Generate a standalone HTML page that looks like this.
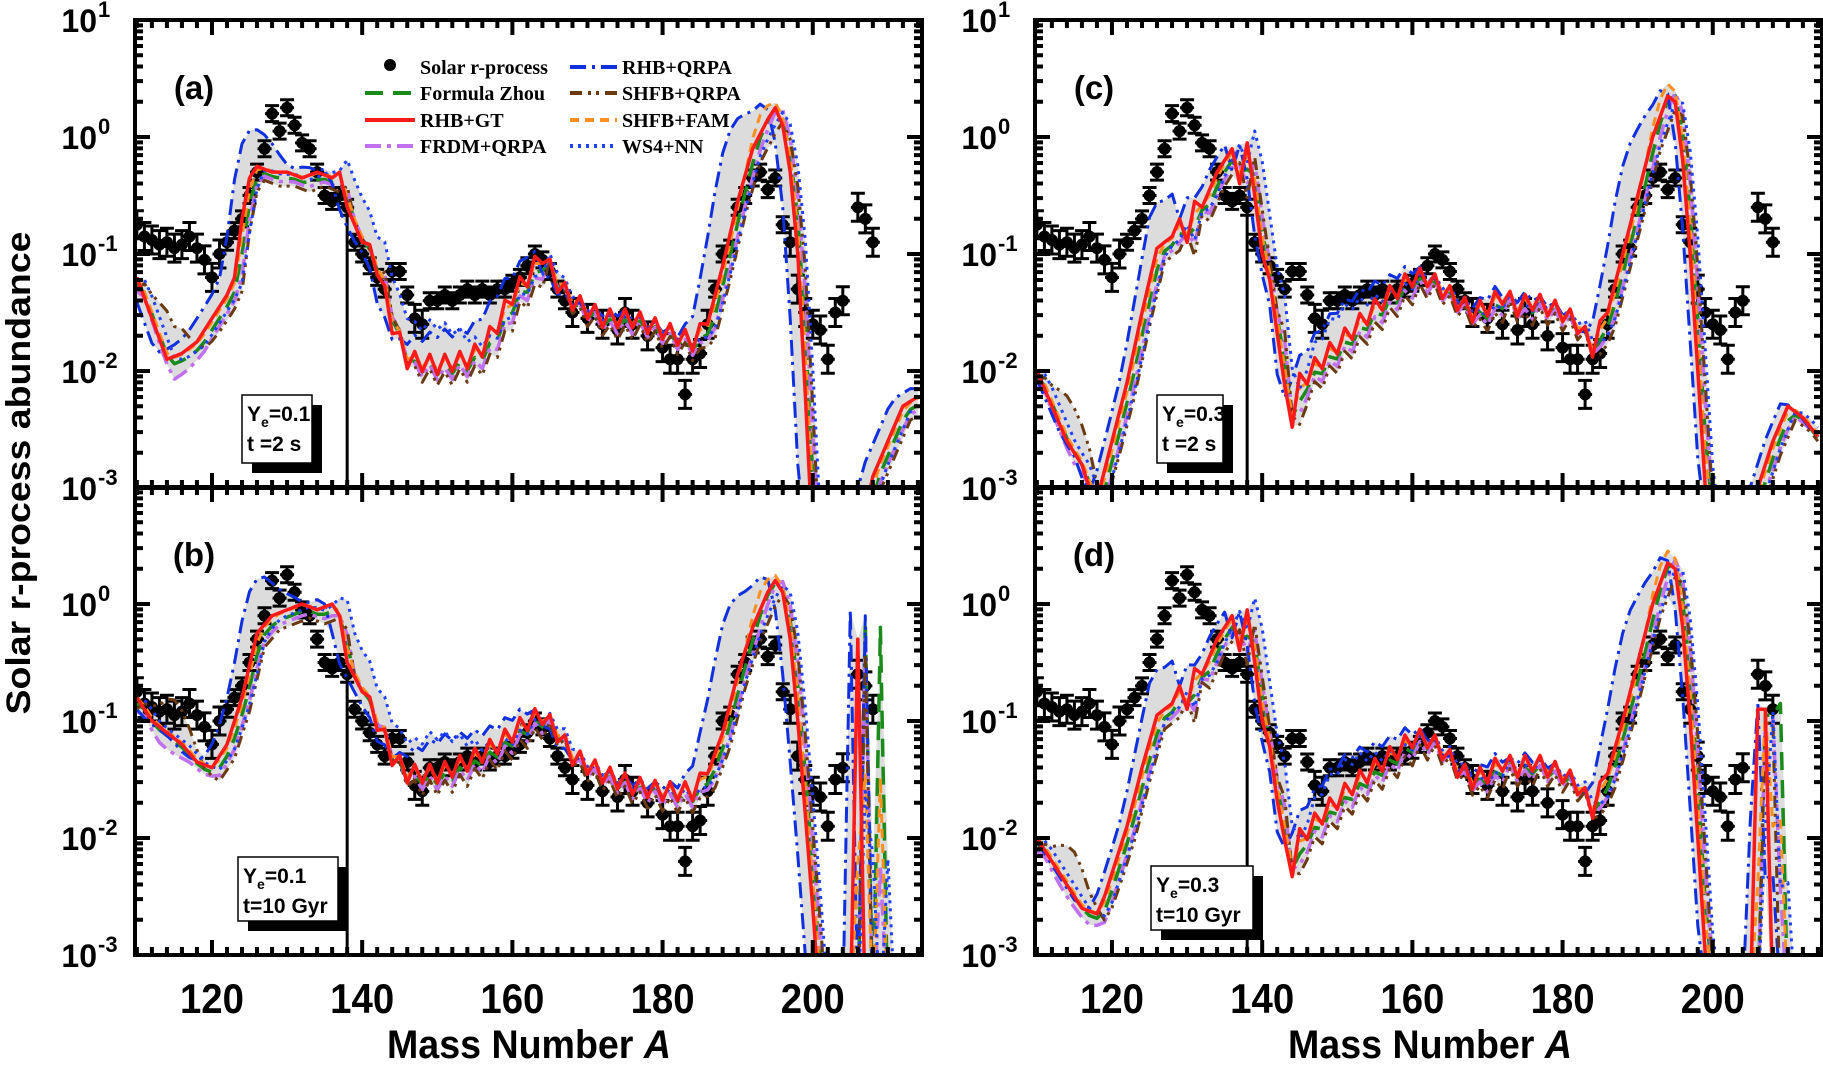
<!DOCTYPE html>
<html><head><meta charset="utf-8"><style>
html,body{margin:0;padding:0;background:#fff;}
svg{display:block;}
</style></head><body>
<svg id="s" width="1823" height="1066" xmlns="http://www.w3.org/2000/svg" font-family="Liberation Sans, Arial, sans-serif">
<rect width="1823" height="1066" fill="#fff"/>
<g id="g"></g>
<text x="0" y="0" transform="translate(30,473) rotate(-90)" text-anchor="middle" font-size="34" font-weight="bold" textLength="483" lengthAdjust="spacingAndGlyphs">Solar r-process abundance</text>
<text x="529" y="1058" text-anchor="middle" font-size="40" font-weight="bold" textLength="284" lengthAdjust="spacingAndGlyphs">Mass Number <tspan font-style="italic">A</tspan></text>
<text x="1430" y="1058" text-anchor="middle" font-size="40" font-weight="bold" textLength="284" lengthAdjust="spacingAndGlyphs">Mass Number <tspan font-style="italic">A</tspan></text>
</svg>
<script>
(function(){
var G=document.getElementById('g');
var out=[];
var PX=7.51, XMIN=109.75, DEC=117;
function panel(x0,yTop){return {x0:x0,x1:x0+787,yTop:yTop,yBot:yTop+468,
 X:function(a){return x0+(a-XMIN)*PX;}, Y:function(l){return yTop+(1-l)*DEC;}};}
var P={a:panel(135,20),b:panel(135,487),c:panel(1035,20),d:panel(1035,487)};
var base={
a:[[110,-1.2],[112,-1.55],[114,-1.9],[116,-1.85],[118,-1.75],[120,-1.55],[122,-1.35],[123,-1.2],[124,-0.7],[125,-0.35],[126,-0.25],[128,-0.3],[130,-0.3],[132,-0.35],[134,-0.3],[136,-0.35],[137,-0.3],[138,-0.6],[140,-0.9],[142,-1.1],[144,-1.6],[146,-1.9],[150,-1.95],[154,-1.9],[156,-1.8],[158,-1.6],[160,-1.35],[162,-1.2],[164,-1.0],[166,-1.25],[168,-1.4],[172,-1.55],[176,-1.55],[180,-1.65],[184,-1.75],[186,-1.6],[188,-1.1],[190,-0.55],[192,-0.1],[194,0.15],[195,0.25],[196,0.1],[197,-0.3],[198,-1.0],[199,-2.2],[200,-3.5],[206,-3.5],[208,-2.9],[212,-2.3],[214.5,-2.2]],
b:[[110,-0.8],[112,-1.0],[114,-1.1],[116,-1.2],[118,-1.35],[120,-1.4],[122,-1.2],[124,-0.8],[126,-0.25],[128,-0.1],[130,-0.05],[132,0.0],[134,-0.05],[136,0.0],[137,-0.1],[138,-0.5],[140,-0.75],[142,-1.0],[144,-1.3],[146,-1.45],[150,-1.45],[154,-1.35],[158,-1.2],[160,-1.1],[162,-1.0],[164,-0.95],[166,-1.1],[168,-1.3],[172,-1.45],[176,-1.55],[180,-1.6],[184,-1.6],[186,-1.45],[188,-1.1],[190,-0.6],[192,-0.2],[194,0.1],[195,0.2],[196,0.1],[197,-0.3],[198,-1.0],[199,-1.8],[200,-2.6],[201,-3.5],[205.5,-3.5],[206,-0.3],[206.5,-0.1],[207,-3.5],[208,-3.5],[208.5,-0.15],[209,-3.5],[214.5,-3.5]],
c:[[110,-2.0],[112,-2.3],[114,-2.6],[116,-2.8],[117,-3.0],[118,-3.1],[120,-2.6],[122,-2.1],[124,-1.5],[126,-0.95],[128,-0.85],[129,-0.7],[130,-0.9],[131,-0.55],[132,-0.6],[134,-0.3],[135,-0.2],[136,-0.1],[137,-0.4],[138,-0.05],[139,-0.5],[140,-1.0],[142,-1.6],[143,-2.2],[144,-2.4],[145,-2.1],[148,-1.9],[152,-1.65],[156,-1.4],[160,-1.2],[162,-1.2],[164,-1.3],[166,-1.4],[168,-1.5],[170,-1.45],[172,-1.35],[174,-1.45],[176,-1.4],[178,-1.45],[180,-1.5],[182,-1.6],[184,-1.8],[186,-1.5],[188,-1.0],[190,-0.5],[192,0.0],[194,0.35],[195,0.3],[196,-0.2],[197,-1.0],[198,-2.0],[199,-3.0],[200,-3.4],[204,-3.4],[206,-3.0],[208,-2.6],[210,-2.3],[212,-2.4],[214.5,-2.6]],
d:[[110,-2.0],[112,-2.2],[114,-2.4],[116,-2.6],[118,-2.65],[119,-2.5],[120,-2.3],[122,-1.9],[124,-1.4],[126,-0.95],[128,-0.85],[129,-0.7],[130,-0.9],[131,-0.55],[132,-0.6],[134,-0.3],[135,-0.2],[136,-0.1],[137,-0.4],[138,-0.05],[139,-0.5],[140,-1.0],[142,-1.6],[143,-2.1],[144,-2.25],[145,-2.0],[148,-1.8],[152,-1.55],[156,-1.35],[160,-1.15],[162,-1.15],[164,-1.25],[166,-1.4],[168,-1.5],[170,-1.45],[172,-1.35],[174,-1.4],[176,-1.35],[178,-1.4],[180,-1.45],[182,-1.55],[184,-1.75],[186,-1.45],[188,-1.0],[190,-0.5],[192,0.0],[194,0.35],[195,0.3],[196,-0.2],[197,-1.0],[198,-2.0],[199,-3.0],[200,-3.4],[205.5,-3.4],[206,-0.9],[207.5,-0.9],[208,-3.4],[208.5,-0.8],[209,-3.4],[214.5,-3.4]]
};
function interp(k,a){if(a<=k[0][0])return k[0][1];for(var i=1;i<k.length;i++){if(a<=k[i][0]){var t=(a-k[i-1][0])/(k[i][0]-k[i-1][0]);return k[i-1][1]+t*(k[i][1]-k[i-1][1]);}}return k[k.length-1][1];}
var S=[
 {c:'#1a8a1a',d:'18,10',w:3.5,sh:0.5,off:-0.05,b:[[194,2,0.1]],z:0.5},
 {c:'#c070f0',d:'16,6,4,6',w:3.5,sh:0.8,off:-0.08,b:[[195,2,0.12],[114,4,-0.1]],z:0.7},
 {c:'#1030e0',d:'16,6,3,6',w:3,sh:-1.5,off:0.05,b:[[126,3,0.3],[150,6,0.2],[188,3,0.5]],z:0.4},
 {c:'#6b3a10',d:'12,6,3,5,3,6',w:3,sh:1.0,off:-0.12,b:[[115,3,0.4]],z:0.8},
 {c:'#ff9020',d:'9,6',w:3,sh:0.3,off:0.0,b:[[193,2,0.2]],z:0.6},
 {c:'#2040ff',d:'3,5',w:3,sh:1.2,off:-0.02,b:[[150,6,0.35],[140,3,0.2]],z:0.5},
 {c:'#ff1a1a',d:'',w:3.5,sh:0,off:0,b:[],z:1}
];
function series(pk,s){var k=base[pk],pts=[];var sh=s.sh;if((pk=='c'||pk=='d')&&sh<0)sh=-0.8;
 for(var a=110;a<=214.5;a+=1){var l=interp(k,a-sh)+s.off;for(var j=0;j<s.b.length;j++){var bb=s.b[j];l+=bb[2]*Math.exp(-Math.pow((a-bb[0])/bb[1],2));}
 if(a>140&&a<186)l+=0.08*s.z*((a%2)?1:-1);if(l<-3.6)l=-3.6;pts.push([a,l]);}
 return pts;}
var dash=[[110,-0.75],[111,-0.85],[112,-0.88],[113,-0.92],[114,-0.9],[115,-0.95],[116,-0.92],[117,-0.85],[118,-0.95],[119,-1.05],[120,-1.2],[121,-1.0],[122,-0.9],[123,-0.8],[124,-0.7],[125,-0.5],[126,-0.3],[127,-0.1],[128,0.2],[129,0.05],[130,0.25],[131,0.1],[132,-0.05],[133,-0.1],[134,-0.3],[135,-0.5],[136,-0.55],[137,-0.5],[138,-0.6],[139,-0.9],[140,-1.0],[141,-1.1],[142,-1.2],[143,-1.3],[144,-1.15],[145,-1.15],[146,-1.35],[147,-1.55],[148,-1.6],[149,-1.4],[150,-1.4],[151,-1.35],[152,-1.4],[153,-1.35],[154,-1.3],[155,-1.35],[156,-1.3],[157,-1.35],[158,-1.3],[159,-1.3],[160,-1.25],[161,-1.2],[162,-1.1],[163,-1.0],[164,-1.05],[165,-1.15],[166,-1.3],[167,-1.4],[168,-1.5],[170,-1.55],[172,-1.6],[174,-1.65],[175,-1.5],[176,-1.6],[178,-1.7],[180,-1.8],[181,-1.9],[182,-1.9],[183,-2.2],[184,-1.9],[185,-1.85],[186,-1.6],[187,-1.3],[188,-1.0],[189,-0.95],[190,-0.6],[191,-0.5],[192,-0.35],[193,-0.3],[194,-0.45],[195,-0.35],[196,-0.75],[197,-0.9],[198,-1.3],[199,-1.5],[200,-1.6],[201,-1.65],[202,-1.9],[203,-1.5],[204,-1.4],[206,-0.6],[207,-0.7],[208,-0.9]];
var info={a:['0.1','t =2 s',242,395,70,68],b:['0.1','t=10 Gyr',238,857,100,64],c:['0.3','t =2 s',1157,395,66,68],d:['0.3','t=10 Gyr',1151,866,102,64]};
var lab={a:'(a)',b:'(b)',c:'(c)',d:'(d)'};
['a','b','c','d'].forEach(function(pk){
 var p=P[pk];
 out.push('<clipPath id="cp'+pk+'"><rect x="'+p.x0+'" y="'+p.yTop+'" width="787" height="468"/></clipPath>');
 out.push('<g clip-path="url(#cp'+pk+')">');
 var all=S.map(function(s){return series(pk,s);});
 var up=[],lo=[];
 for(var i=0;i<all[0].length;i++){var mx=-9,mn=9;for(var j=0;j<all.length;j++){mx=Math.max(mx,all[j][i][1]);mn=Math.min(mn,all[j][i][1]);}
  up.push(p.X(all[0][i][0]).toFixed(1)+','+p.Y(mx).toFixed(1));lo.unshift(p.X(all[0][i][0]).toFixed(1)+','+p.Y(mn).toFixed(1));}
 out.push('<polygon points="'+up.concat(lo).join(' ')+'" fill="#dcdcdc"/>');
 var l138=p.Y(-0.55);
 out.push('<line x1="'+p.X(138)+'" y1="'+l138+'" x2="'+p.X(138)+'" y2="'+p.yBot+'" stroke="#000" stroke-width="3"/>');
 dash.forEach(function(d){var x=p.X(d[0]),y=p.Y(d[1]);var e=(d[1]<-1.4||d[0]<122||d[0]>196)?14:8;
  out.push('<path d="M'+x+' '+(y-e)+'V'+(y+e)+'M'+(x-7)+' '+(y-e)+'h14M'+(x-7)+' '+(y+e)+'h14M'+(x-7)+' '+y+'h14" stroke="#000" stroke-width="3" fill="none"/><circle cx="'+x+'" cy="'+y+'" r="6" fill="#000"/>');});
 all.forEach(function(pts,j){var s=S[j];var d='M'+pts.map(function(q){return p.X(q[0]).toFixed(1)+' '+p.Y(q[1]).toFixed(1);}).join('L');
  out.push('<path d="'+d+'" fill="none" stroke="'+s.c+'" stroke-width="'+s.w+'" stroke-linejoin="round"'+(s.d?' stroke-dasharray="'+s.d+'"':'')+'/>');});
 out.push('</g>');
 out.push('<rect x="'+p.x0+'" y="'+p.yTop+'" width="787" height="468" fill="none" stroke="#000" stroke-width="4"/>');
 var t='';
 for(var a=110;a<=214;a+=2){var x=p.X(a),L=(a%20==0)?15:8;t+='M'+x+' '+p.yTop+'v'+L+'M'+x+' '+p.yBot+'v-'+L;}
 for(var dd=0;dd<4;dd++){for(var k=1;k<=9;k++){var y=p.Y(-3+dd+Math.log10(k));var L=(k==1)?15:8;if(k==1&&dd==0)continue;t+='M'+p.x0+' '+y+'h'+L+'M'+p.x1+' '+y+'h-'+L;}}
 out.push('<path d="'+t+'" stroke="#000" stroke-width="4" fill="none"/>');
 var yl=(pk=='a'||pk=='c')?[1,0,-1,-2,-3]:[0,-1,-2,-3];
 yl.forEach(function(e){var y=p.Y(e);out.push('<text x="'+(p.x0-38)+'" y="'+(y+12)+'" text-anchor="end" font-size="32" font-weight="bold">10</text><text x="'+(p.x0-37)+'" y="'+(y-3)+'" font-size="22" font-weight="bold">'+(e==0||e==1?e:'-'+(-e))+'</text>');});
 out.push('<text x="'+(p.x0+59)+'" y="'+(p.yTop+79)+'" text-anchor="middle" font-size="33" font-weight="bold">'+lab[pk]+'</text>');
 var f=info[pk];
 out.push('<rect x="'+(f[2]+10)+'" y="'+(f[3]+10)+'" width="'+f[4]+'" height="'+f[5]+'" fill="#000"/><rect x="'+f[2]+'" y="'+f[3]+'" width="'+f[4]+'" height="'+f[5]+'" fill="#fff" stroke="#000" stroke-width="1.5"/>');
 out.push('<text x="'+(f[2]+5)+'" y="'+(f[3]+26)+'" font-size="21" font-weight="bold">Y<tspan font-size="14" dy="6">e</tspan><tspan dy="-6">='+f[0]+'</tspan></text><text x="'+(f[2]+5)+'" y="'+(f[3]+56)+'" font-size="21" font-weight="bold">'+f[1]+'</text>');
 if(pk=='b'||pk=='d'){[120,140,160,180,200].forEach(function(a){out.push('<text x="'+p.X(a)+'" y="1013" text-anchor="middle" font-size="42" font-weight="bold" textLength="64" lengthAdjust="spacingAndGlyphs">'+a+'</text>');});}
});
var lg=[[365,415,67,null,'Solar r-process'],[365,415,93,0,'Formula Zhou'],[365,415,120,6,'RHB+GT'],[365,415,146,1,'FRDM+QRPA'],
[570,617,67,2,'RHB+QRPA'],[570,617,93,3,'SHFB+QRPA'],[570,617,120,4,'SHFB+FAM'],[570,617,146,5,'WS4+NN']];
lg.forEach(function(l){
 if(l[3]===null)out.push('<circle cx="390" cy="'+(l[2]-2)+'" r="6" fill="#000"/>');
 else{var s=S[l[3]];out.push('<line x1="'+l[0]+'" y1="'+l[2]+'" x2="'+l[1]+'" y2="'+l[2]+'" stroke="'+s.c+'" stroke-width="4"'+(s.d?' stroke-dasharray="'+s.d+'"':'')+'/>');}
 out.push('<text x="'+(l[1]+5)+'" y="'+(l[2]+7)+'" font-family="Liberation Serif, serif" font-size="20" font-weight="bold">'+l[4]+'</text>');
});
G.innerHTML=out.join('');
})();
</script>
</body></html>
